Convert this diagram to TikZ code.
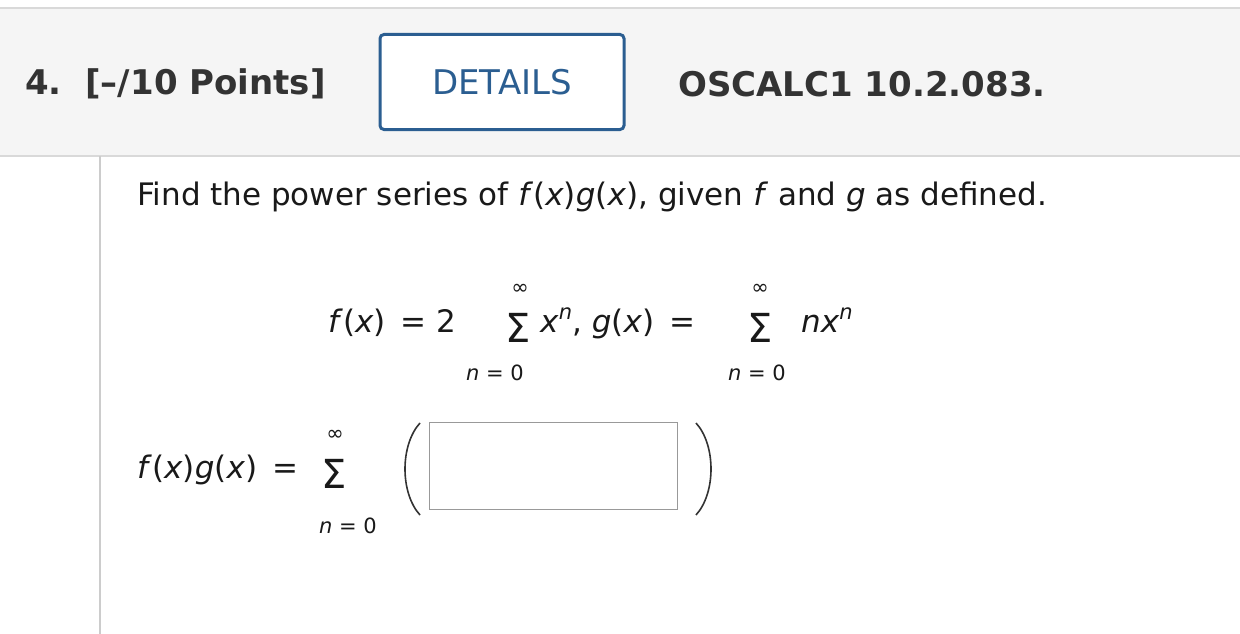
\documentclass[tikz,border=0pt]{standalone}
\usepackage{fontspec}
\setmainfont{DejaVu Sans}
\definecolor{detblue}{HTML}{2B5E91}
\begin{document}
\begin{tikzpicture}[x=1pt,y=-1pt,
  hdr/.style={anchor=west,font=\fontsize{34}{40}\selectfont\bfseries,text=black!80,inner sep=0},
  body/.style={anchor=base west,font=\fontsize{31}{36}\selectfont,text=black!90,inner sep=0},
  sig/.style={anchor=base,font=\fontsize{40}{44}\selectfont,text=black!90,inner sep=0},
  sm/.style={anchor=base,font=\fontsize{21}{24}\selectfont,text=black!90,inner sep=0}]
\useasboundingbox (0,0) rectangle (1240,634);
\fill[white] (0,0) rectangle (1240,634);
\fill[black!4] (0,8) rectangle (1240,156);
\draw[black!15,line width=1.5] (0,8) -- (1240,8);
\draw[black!15,line width=1.5] (0,156) -- (1240,156);
\draw[black!20,line width=1.5] (100,156) -- (100,634);
\node[hdr] (num) at (25,84) {4.\ \ [–/10 Points]};
\node[draw=detblue,line width=3,rounded corners=4,fill=white,minimum width=244,minimum height=95,font=\fontsize{34}{40}\selectfont,text=detblue] (det) at (502,82) {DETAILS};
\node[hdr] (code) at (678,84) {OSCALC1 10.2.083.};
\node[body] (q) at (137,205) {Find the power series of \textit{f}(\textit{x})\textit{g}(\textit{x}), given \textit{f} and \textit{g} as defined.};
% first formula
\node[body] (f1) at (328,332) {\textit{f}(\textit{x}) \,= 2};
\node[sig] (s1) at (518,342) {Σ};
\node[sm] (i1) at (520,294) {∞};
\node[sm] (l1) at (495,380) {\textit{n} = 0};
\node[body] (f2) at (540,332) {\textit{x}\raisebox{13pt}{\fontsize{21}{24}\selectfont\textit{n}}, \textit{g}(\textit{x}) \,=};
\node[sig] (s2) at (760,342) {Σ};
\node[sm] (i2) at (760,294) {∞};
\node[sm] (l2) at (757,380) {\textit{n} = 0};
\node[body] (f3) at (801,332) {\textit{nx}\raisebox{13pt}{\fontsize{21}{24}\selectfont\textit{n}}};
% second formula
\node[body] (fg) at (137,478) {\textit{f}(\textit{x})\textit{g}(\textit{x}) \,=};
\node[sig] (s3) at (334,488) {Σ};
\node[sm] (i3) at (335,440) {∞};
\node[sm] (l3) at (348,533) {\textit{n} = 0};
\node[draw=black!40,line width=1,minimum width=248,minimum height=87,inner sep=0] (ans) at (553,466) {};
\coordinate (lpt) at (420,423);
\coordinate (lpb) at (420,515);
\coordinate (rpt) at (696,423);
\coordinate (rpb) at (696,515);
\draw[black!80,line width=1.6] (lpt) .. controls (400,445) and (400,493) .. (lpb);
\draw[black!80,line width=1.6] (rpt) .. controls (716,445) and (716,493) .. (rpb);
\end{tikzpicture}
\end{document}
